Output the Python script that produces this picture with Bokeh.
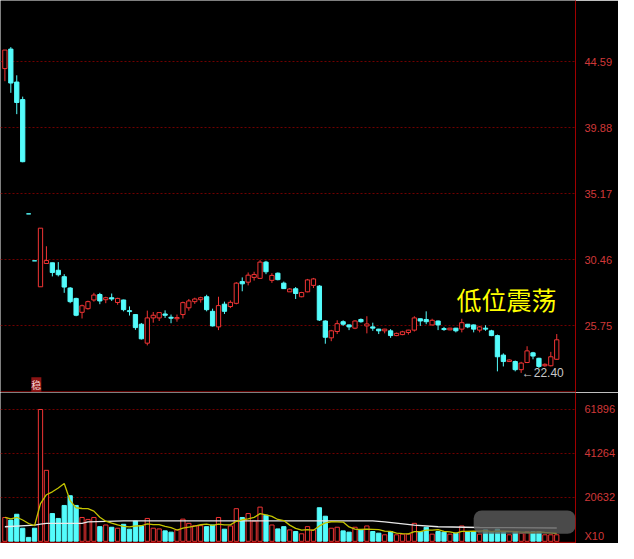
import pandas as pd
from bokeh.plotting import figure
from bokeh.models import (ColumnDataSource, FixedTicker, Span, Label, BoxAnnotation,
                          Range1d, PrintfTickFormatter)
from bokeh.layouts import column
from bokeh.embed import file_html
from bokeh.resources import INLINE

# ---------------- data ----------------
opens = [44.10, 45.49, 43.14, 41.89, 33.74, 30.39, 28.54, 30.20, 30.25, 29.72,
         29.26, 28.45, 27.71, 26.72, 26.98, 27.60, 27.99, 27.62, 27.76, 27.42,
         27.60, 26.84, 26.56, 25.87, 24.52, 26.32, 26.32, 26.60, 26.37, 26.26,
         26.56, 27.04, 27.48, 27.62, 27.83, 26.79, 25.68, 27.30, 27.13, 27.36,
         28.91, 28.87, 29.21, 29.14, 30.30, 29.00, 29.51, 28.80, 28.18, 28.40,
         27.83, 28.18, 28.64, 28.59, 26.10, 24.90, 25.35, 26.05, 25.82, 25.59,
         26.21, 25.75, 25.68, 25.52, 25.40, 25.40, 25.06, 25.13, 25.28, 25.45,
         26.26, 26.21, 25.82, 26.10, 25.56, 25.47, 25.59, 25.52, 25.87, 25.82,
         25.45, 25.59, 25.40, 25.06, 23.67, 23.21, 23.21, 22.63, 23.14, 23.83,
         23.44, 22.91, 22.91, 23.37]
highs = [45.42, 45.63, 43.62, 42.10, 33.74, 30.39, 32.72, 31.43, 30.25, 30.30,
         29.44, 28.52, 27.76, 27.27, 27.55, 28.11, 28.11, 27.83, 28.06, 27.76,
         27.62, 27.14, 26.58, 25.96, 26.84, 26.74, 26.72, 26.86, 26.56, 26.56,
         27.48, 27.67, 27.76, 27.83, 27.97, 26.98, 27.83, 27.48, 27.57, 28.87,
         29.21, 29.56, 29.61, 30.44, 30.39, 29.51, 29.56, 28.91, 28.45, 28.52,
         28.18, 29.10, 29.17, 28.66, 26.15, 25.47, 26.15, 26.15, 25.85, 26.15,
         26.28, 26.44, 25.98, 25.54, 25.54, 25.52, 25.27, 25.40, 25.47, 26.44,
         26.27, 26.79, 26.26, 26.13, 25.68, 25.61, 25.61, 26.26, 25.89, 25.85,
         25.75, 25.80, 25.47, 25.13, 23.79, 23.36, 23.28, 23.19, 24.30, 23.90,
         23.48, 23.08, 23.90, 25.17]
lows = [43.20, 42.37, 40.85, 37.42, 33.74, 30.39, 28.54, 30.20, 29.28, 29.28,
        28.11, 27.37, 26.44, 26.28, 26.91, 27.48, 27.30, 27.37, 27.53, 27.26,
        26.79, 26.49, 25.47, 24.78, 24.36, 25.98, 26.10, 26.32, 25.94, 26.05,
        26.28, 26.84, 27.32, 27.41, 26.79, 25.71, 25.45, 26.60, 27.02, 27.29,
        28.22, 28.64, 28.98, 29.11, 29.44, 28.82, 29.00, 28.38, 28.18, 27.67,
        27.79, 28.15, 28.45, 26.10, 24.48, 24.66, 25.17, 25.75, 25.45, 25.52,
        25.98, 25.22, 25.40, 25.17, 25.22, 24.90, 25.02, 25.09, 25.13, 25.35,
        25.75, 25.87, 25.78, 25.45, 25.40, 25.44, 25.29, 25.29, 25.59, 25.29,
        25.29, 25.40, 25.02, 22.51, 22.86, 23.19, 22.51, 22.40, 23.10, 23.37,
        22.75, 22.84, 22.86, 23.35]
closes = [45.42, 43.07, 41.68, 37.46, 33.74, 30.39, 32.72, 30.41, 29.56, 29.40,
          28.52, 27.48, 26.51, 27.19, 27.48, 27.95, 27.53, 27.76, 27.67, 27.71,
          26.91, 26.77, 25.63, 24.83, 26.32, 26.51, 26.70, 26.51, 26.30, 26.35,
          27.41, 27.53, 27.67, 27.76, 26.91, 25.75, 27.20, 26.79, 27.43, 28.80,
          28.75, 29.37, 29.42, 30.30, 29.61, 29.35, 29.05, 28.41, 28.38, 28.06,
          28.13, 29.03, 29.10, 26.17, 24.94, 25.40, 25.91, 25.87, 25.68, 26.10,
          26.05, 25.89, 25.59, 25.40, 25.52, 25.06, 25.22, 25.33, 25.45, 26.32,
          26.10, 26.05, 26.15, 25.82, 25.49, 25.59, 25.40, 25.98, 25.68, 25.52,
          25.68, 25.52, 25.06, 23.55, 23.21, 23.32, 22.63, 23.10, 23.97, 23.60,
          22.86, 23.01, 23.55, 24.76]
volumes = [11190, 9950, 12700, 6140, 1830, 6140, 61900, 33330, 13020, 10730,
           16830, 21410, 16830, 11190, 10270, 11190, 6880, 7660, 6600, 6140,
           7980, 5690, 9490, 7200, 10730, 6140, 5820, 4900, 4300, 5360,
           10400, 8430, 7340, 7340, 6880, 7660, 11190, 5690, 7200, 15310,
           11190, 13020, 9490, 16050, 12240, 7660, 5820, 6880, 5360, 4590,
           3520, 6880, 5360, 15770, 11780, 6140, 6600, 4900, 4300, 6600,
           5360, 7200, 4590, 3820, 3060, 4590, 3060, 3360, 3360, 8430,
           4590, 6600, 3360, 4590, 4300, 3360, 3820, 7200, 4590, 4590,
           3360, 5360, 4590, 5690, 4590, 3060, 4590, 3820, 4590, 4590,
           4590, 3060, 3060, 3060]
# long volume average (white line), read at a few candles
white_idx = [0, 5, 6, 7, 13, 14, 20, 36, 62, 64, 69, 73, 80, 93]
white_vol = [6840, 7620, 8070, 8390, 8390, 9120, 9580, 9580, 9580, 9120, 7620, 6840, 6480, 6250]

price_ticks = [25.75, 30.46, 35.17, 39.88, 44.59]
vol_ticks = [20632, 41264, 61896]
unit_label = "X10"
note_text = "低位震荡"
badge_text = "稳"

# ---------------- styling ----------------
RED = "#F03434"
CYAN = "#54FCFC"
AXIS_RED = "#A00000"
GRID_RED = "#700000"
LABEL_RED = "#D03838"

n = len(opens)
idx = list(range(n))
up = [c > o for o, c in zip(opens, closes)]
colors = [RED if u else CYAN for u in up]
fills = ["black" if u else CYAN for u in up]
src = ColumnDataSource(dict(
    x=idx, o=opens, h=highs, l=lows, c=closes, v=volumes,
    top=[max(o, c) for o, c in zip(opens, closes)],
    bot=[min(o, c) for o, c in zip(opens, closes)],
    col=colors, fill=fills,
    ma5=pd.Series(volumes).rolling(5, min_periods=1).mean().tolist(),
))

xr = Range1d(-0.74, 96.16)


def style(p):
    p.background_fill_color = "black"
    p.border_fill_color = "black"
    p.outline_line_color = None
    p.xgrid.visible = False
    p.ygrid.grid_line_color = GRID_RED
    p.ygrid.grid_line_dash = "2 2"
    ax = p.yaxis[0]
    ax.axis_line_color = AXIS_RED
    ax.major_tick_line_color = None
    ax.minor_tick_line_color = None
    ax.major_label_text_color = LABEL_RED
    ax.major_label_text_font = "Liberation Sans"
    ax.major_label_text_font_size = "11px"
    ax.major_label_standoff = 3


# ---------------- price panel ----------------
p1 = figure(width=618, height=392, x_range=xr, y_range=Range1d(21.002, 48.954),
            output_backend="svg", toolbar_location=None, x_axis_location=None,
            y_axis_location="right", min_border_left=0, min_border_top=0,
            min_border_bottom=0, min_border_right=43)
style(p1)
p1.yaxis.ticker = FixedTicker(ticks=price_ticks)
p1.yaxis.formatter = PrintfTickFormatter(format="%.2f")
p1.ygrid.ticker = FixedTicker(ticks=price_ticks)

p1.segment(x0="x", y0="h", x1="x", y1="l", color="col", line_width=1, source=src)
p1.vbar(x="x", width=0.72, top="top", bottom="bot", fill_color="fill",
        line_color="col", line_width=1, source=src)

p1.add_layout(Span(location=21.04, dimension="width", line_color="#B00000", line_width=1))

p1.add_layout(Label(x=76.1, y=27.69, text=note_text, text_color="#FFFF00",
                    text_font="Noto Sans CJK SC", text_font_size="25px",
                    text_baseline="middle", text_align="left"))
lo_i = min(idx, key=lambda i: lows[i])
p1.add_layout(Label(x=lo_i + 0.1, y=lows[lo_i], text="\u2190%.2f" % lows[lo_i],
                    text_color="#C8C8C8", text_font="Liberation Sans",
                    text_font_size="12px", text_baseline="middle", text_align="left"))
p1.add_layout(Label(x=5.3, y=21.55, text=badge_text, text_color="#F4D0D0",
                    text_font="Noto Sans CJK SC", text_font_size="10px",
                    text_baseline="middle", text_align="center",
                    background_fill_color="#8B1414"))

# ---------------- volume panel ----------------
p2 = figure(width=618, height=151, x_range=xr, y_range=Range1d(-1033, 69878),
            output_backend="svg", toolbar_location=None, x_axis_location=None,
            y_axis_location="right", min_border_left=0, min_border_top=0,
            min_border_bottom=0, min_border_right=43)
style(p2)
p2.yaxis.ticker = FixedTicker(ticks=[2300] + vol_ticks)
p2.yaxis.formatter = PrintfTickFormatter(format="%d")
p2.yaxis.major_label_overrides = {2300: unit_label}
p2.ygrid.ticker = FixedTicker(ticks=vol_ticks)

p2.vbar(x="x", width=0.72, top="v", bottom=0, fill_color="fill",
        line_color="col", line_width=1, source=src)
p2.line(white_idx, white_vol, line_color="#E8E8E8", line_width=1.3)
p2.line(x="x", y="ma5", line_color="#C4C400", line_width=1.3, source=src)
p2.add_layout(Span(location=-500, dimension="width", line_color="#B00000", line_width=1))
p2.add_layout(BoxAnnotation(left=79, bottom=3500, top=14500, fill_color="#5C5C5C",
                            fill_alpha=0.8, line_color=None, border_radius=8))

layout = column(p1, p2)
open("out.html", "w").write(file_html(layout, INLINE))
